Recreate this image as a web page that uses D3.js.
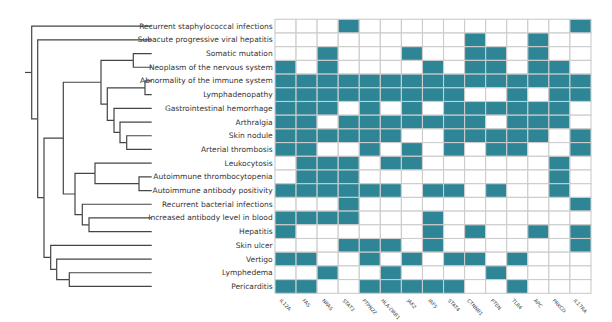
<!DOCTYPE html>
<html>
<head>
<meta charset="utf-8">
<script src="https://cdn.jsdelivr.net/npm/d3@7/dist/d3.min.js"></script>
<style>
  html, body { margin: 0; padding: 0; background: #ffffff; }
  svg { display: block; }
</style>
</head>
<body>
<svg id="chart" width="612" height="322"></svg>
<script>
// ---------------- DATA ----------------
const rowLabels = [
  "Recurrent staphylococcal infections",
  "Subacute progressive viral hepatitis",
  "Somatic mutation",
  "Neoplasm of the nervous system",
  "Abnormality of the immune system",
  "Lymphadenopathy",
  "Gastrointestinal hemorrhage",
  "Arthralgia",
  "Skin nodule",
  "Arterial thrombosis",
  "Leukocytosis",
  "Autoimmune thrombocytopenia",
  "Autoimmune antibody positivity",
  "Recurrent bacterial infections",
  "Increased antibody level in blood",
  "Hepatitis",
  "Skin ulcer",
  "Vertigo",
  "Lymphedema",
  "Pericarditis"
];

const colLabels = ["IL12A", "FAS", "NRAS", "STAT3", "PTPN22", "HLA-DRB1", "JAK2",
  "IRF5", "STAT4", "CTNNB1", "PTEN", "TLR4", "APC", "PRKCD", "IL17RA"];

// presence (1) / absence (0) per row, one char per column
const cellRows = [
  "000100000000001",
  "000000000100100",
  "001000100110100",
  "101000010110110",
  "111111111111111",
  "111111111001011",
  "111010101111110",
  "110111111101110",
  "111111001111101",
  "110010101011001",
  "011101100000010",
  "011100000000010",
  "111111011010010",
  "000100000000001",
  "111100010000000",
  "100000010100101",
  "000111010000001",
  "110010101101000",
  "001001000010000",
  "110011111001000"
];

// dendrogram merges: [childA, childB, height]; leaves are 0..19, new nodes 20..
const merges = [
  [4, 5, 0.67],     // 20
  [11, 12, 1.27],   // 21
  [2, 3, 1.84],     // 22
  [8, 9, 2.5],      // 23
  [7, 23, 3.17],    // 24
  [6, 24, 3.77],    // 25
  [20, 25, 4.44],   // 26
  [22, 26, 5.07],   // 27
  [10, 21, 5.67],   // 28
  [14, 15, 6.27],   // 29
  [13, 29, 6.94],   // 30
  [28, 30, 7.67],   // 31
  [18, 19, 8.24],   // 32
  [27, 31, 8.84],   // 33
  [17, 32, 9.5],    // 34
  [16, 34, 10.1],   // 35
  [33, 35, 10.77],  // 36
  [1, 36, 11.4],    // 37
  [0, 37, 12.0]     // 38
];
const rootStubHeight = 12.67;

// ---------------- LAYOUT ----------------
const svg = d3.select("#chart");
const gridLeft = 275, gridRight = 591, gridTop = 19.3, gridBottom = 293.3;
const fillColor = "#2e8596";
const fontFamily = "'DejaVu Sans', sans-serif";

const x = d3.scaleBand().domain(colLabels).range([gridLeft, gridRight]).padding(0);
const y = d3.scaleBand().domain(d3.range(rowLabels.length)).range([gridTop, gridBottom]).padding(0);

// ---------------- DENDROGRAM NODES ----------------
const dx = d3.scaleLinear().domain([0, rootStubHeight]).range([151.7, 25]);
const nodes = rowLabels.map((_, i) => ({ h: 0, yc: y(i) + y.bandwidth() / 2 }));
merges.forEach(([a, b, h]) => {
  nodes.push({ h, yc: (nodes[a].yc + nodes[b].yc) / 2, a, b });
});

// heat map cells
const cells = [];
cellRows.forEach((row, ri) => {
  row.split("").forEach((v, ci) => cells.push({ ri, col: colLabels[ci], v: +v }));
});

svg.append("g").selectAll("rect").data(cells).join("rect")
  .attr("x", d => x(d.col))
  .attr("y", d => y(d.ri))
  .attr("width", x.bandwidth())
  .attr("height", y.bandwidth())
  .attr("fill", d => d.v ? fillColor : "#ffffff")
  .attr("stroke", "#cccccc")
  .attr("stroke-width", 1.1);

// row labels
svg.append("g").selectAll("text").data(rowLabels).join("text")
  .attr("x", 272.7)
  .attr("y", (d, i) => y(i) + y.bandwidth() / 2)
  .attr("text-anchor", "end")
  .attr("dominant-baseline", "central")
  .attr("font-family", fontFamily)
  .attr("font-size", "7.5px")
  .attr("fill", "#333333")
  .text(d => d);

// dendrogram links (drawn over labels, as in the reference)
const links = [];
nodes.forEach(n => {
  if (n.a === undefined) return;
  [n.a, n.b].forEach(c => {
    const ch = nodes[c];
    links.push([[dx(n.h), n.yc], [dx(n.h), ch.yc], [dx(ch.h), ch.yc]]);
  });
});
const root = nodes[nodes.length - 1];
links.push([[dx(rootStubHeight), root.yc], [dx(root.h), root.yc]]);

const line = d3.line();
svg.append("g").selectAll("path").data(links).join("path")
  .attr("d", d => line(d))
  .attr("fill", "none")
  .attr("stroke", "#444444")
  .attr("stroke-width", 1.2);

// column labels (rotated)
const angle = 48;
const colG = svg.append("g");
colLabels.forEach(c => {
  const t = colG.append("text")
    .attr("text-anchor", "middle")
    .attr("dominant-baseline", "central")
    .attr("font-family", fontFamily)
    .attr("font-size", "5px")
    .attr("fill", "#444444")
    .text(c);
  const L = t.node().getComputedTextLength();
  const rad = angle * Math.PI / 180;
  const halfH = (L * Math.sin(rad)) / 2 + 2;
  t.attr("transform", `translate(${x(c) + x.bandwidth() / 2},${gridBottom + 4 + halfH}) rotate(${angle})`);
});
</script>
</body>
</html>
